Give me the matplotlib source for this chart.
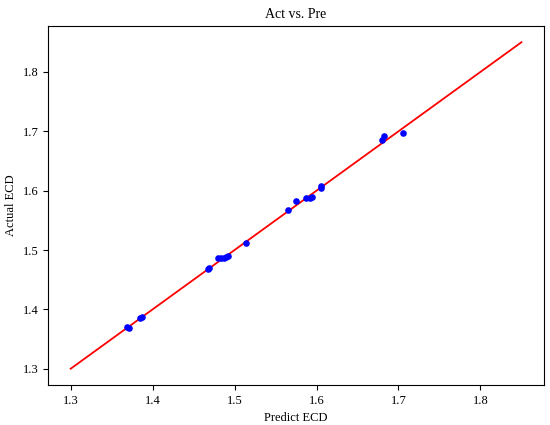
import matplotlib
matplotlib.use("Agg")
import matplotlib.pyplot as plt

plt.rcParams['font.family'] = ['Liberation Serif', 'DejaVu Serif']
pred = [1.369, 1.371, 1.385, 1.387, 1.467, 1.469, 1.480, 1.484, 1.487, 1.490, 1.492,
        1.514, 1.565, 1.575, 1.587, 1.592, 1.595, 1.605, 1.605, 1.680, 1.682, 1.706]
act = [1.370, 1.369, 1.386, 1.387, 1.468, 1.469, 1.486, 1.487, 1.486, 1.489, 1.490,
       1.511, 1.567, 1.582, 1.588, 1.588, 1.589, 1.608, 1.604, 1.686, 1.692, 1.697]
line = [1.3, 1.85]

fig = plt.figure(figsize=(5.5, 4.25), dpi=100)
ax = fig.add_axes([0.0875, 0.094, 0.9015, 0.845])
ax.scatter(pred, act, s=14, color='blue', zorder=3)
ax.plot(line, line, color='red', lw=1.3)
ax.set_title('Act vs. Pre', fontsize=10)
ax.set_xlabel('Predict ECD', fontsize=9)
ax.set_ylabel('Actual ECD', fontsize=9)
ax.tick_params(labelsize=9)
fig.savefig('out.png', dpi=100)
